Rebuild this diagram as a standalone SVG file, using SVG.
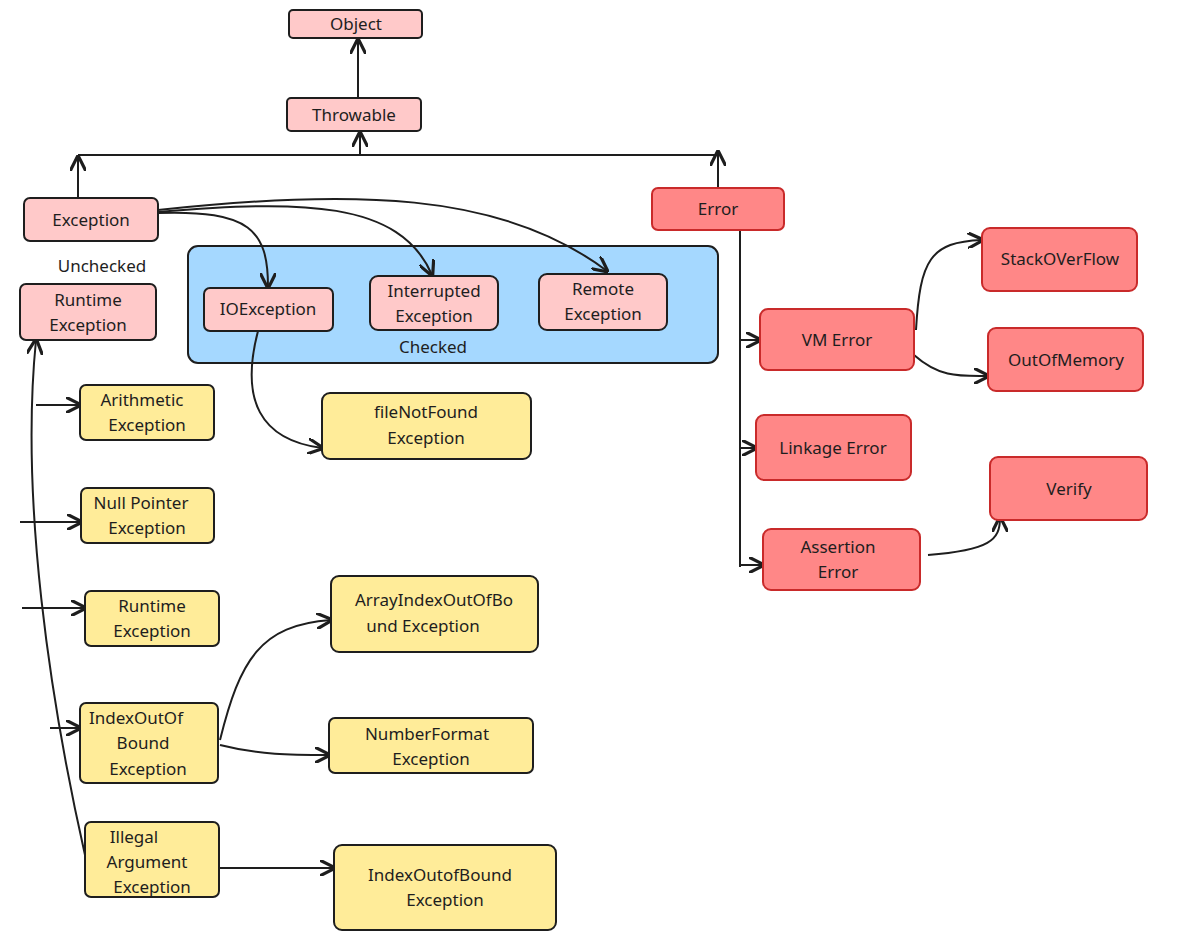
<svg xmlns="http://www.w3.org/2000/svg" width="1200" height="951" viewBox="0 0 1200 951">
<style>
.n rect{stroke:#1e1e1e;stroke-width:2}
.p rect{fill:#ffc9c9}.r rect{fill:#ff8787;stroke:#c92a2a}.y rect{fill:#ffec99}
text{font-family:"Noto Sans",sans-serif;font-size:17px;fill:#1e1e1e;text-anchor:middle}
.c path{fill:none;stroke:#1e1e1e;stroke-width:2;marker-end:url(#a)}
.c path.l{marker-end:none}
</style>
<defs><marker id="a" viewBox="0 0 10 10" refX="9" refY="5" markerWidth="8" markerHeight="8" orient="auto"><path d="M0,0L10,5L0,10" fill="none" stroke="#1e1e1e" stroke-width="2"/></marker></defs>
<rect width="1200" height="951" fill="#fff"/>
<g id="checked"><rect x="188" y="246" width="530" height="117" rx="10" fill="#a5d8ff" stroke="#1e1e1e" stroke-width="2"/><text x="433" y="353">Checked</text></g>
<text x="102" y="272">Unchecked</text>
<g class="c">
<path d="M358,98V40"/>
<path class="l" d="M78,155H718"/>
<path d="M360,155V133"/>
<path d="M78,198V157"/>
<path d="M718,188V152"/>
<path d="M158,213C250,210 268,230 268,287"/>
<path d="M158,212C300,200 400,200 432,275"/>
<path d="M158,210C350,190 500,190 607,271"/>
<path d="M258,331C240,400 260,440 322,448"/>
<path class="l" d="M740,230V567"/>
<path d="M740,340H760"/>
<path d="M740,448H756"/>
<path d="M740,565H763"/>
<path d="M916,330C920,260 930,242 982,240"/>
<path d="M914,355C940,378 960,376 988,376"/>
<path d="M928,555C990,550 1000,540 1000,518"/>
<path d="M85,855C50,700 20,500 36,340"/>
<path d="M36,405H80"/>
<path d="M20,522H81"/>
<path d="M22,608H85"/>
<path d="M50,728H80"/>
<path d="M220,740C240,660 260,625 331,620"/>
<path d="M220,745C260,755 290,755 329,755"/>
<path d="M219,868H334"/>
</g>
<g id="object" class="n p"><rect x="289" y="10" width="133" height="28" rx="4"/><text x="356" y="30">Object</text></g>
<g id="throwable" class="n p"><rect x="287" y="98" width="134" height="33" rx="4"/><text x="354" y="121">Throwable</text></g>
<g id="exception" class="n p"><rect x="24" y="198" width="134" height="43" rx="6"/><text x="91" y="226">Exception</text></g>
<g id="runtime1" class="n p"><rect x="20" y="284" width="136" height="56" rx="6"/><text x="88" y="306">Runtime</text><text x="88" y="331">Exception</text></g>
<g id="ioexception" class="n p"><rect x="204" y="288" width="129" height="43" rx="6"/><text x="268" y="315">IOException</text></g>
<g id="interrupted" class="n p"><rect x="370" y="276" width="128" height="54" rx="8"/><text x="434" y="297">Interrupted</text><text x="434" y="322">Exception</text></g>
<g id="remote" class="n p"><rect x="539" y="274" width="128" height="56" rx="8"/><text x="603" y="295">Remote</text><text x="603" y="320">Exception</text></g>
<g id="filenotfound" class="n y"><rect x="322" y="393" width="209" height="66" rx="8"/><text x="426" y="418">fileNotFound</text><text x="426" y="444">Exception</text></g>
<g id="error" class="n r"><rect x="652" y="188" width="132" height="42" rx="6"/><text x="718" y="215">Error</text></g>
<g id="vmerror" class="n r"><rect x="760" y="309" width="154" height="61" rx="8"/><text x="837" y="346">VM Error</text></g>
<g id="stackoverflow" class="n r"><rect x="982" y="228" width="155" height="63" rx="8"/><text x="1060" y="265">StackOVerFlow</text></g>
<g id="outofmemory" class="n r"><rect x="988" y="328" width="155" height="63" rx="8"/><text x="1066" y="366">OutOfMemory</text></g>
<g id="linkage" class="n r"><rect x="756" y="415" width="155" height="65" rx="8"/><text x="833" y="454">Linkage Error</text></g>
<g id="verify" class="n r"><rect x="990" y="457" width="157" height="63" rx="8"/><text x="1069" y="495">Verify</text></g>
<g id="assertion" class="n r"><rect x="763" y="529" width="157" height="61" rx="8"/><text x="838" y="553">Assertion</text><text x="838" y="578">Error</text></g>
<g id="arithmetic" class="n y"><rect x="80" y="385" width="134" height="55" rx="6"/><text x="142" y="406">Arithmetic</text><text x="147" y="431">Exception</text></g>
<g id="nullpointer" class="n y"><rect x="81" y="488" width="133" height="55" rx="6"/><text x="141" y="509">Null Pointer</text><text x="147" y="534">Exception</text></g>
<g id="runtime2" class="n y"><rect x="85" y="591" width="134" height="55" rx="6"/><text x="152" y="612">Runtime</text><text x="152" y="637">Exception</text></g>
<g id="indexoutof" class="n y"><rect x="80" y="703" width="138" height="80" rx="6"/><text x="136" y="724">IndexOutOf</text><text x="143" y="749">Bound</text><text x="148" y="775">Exception</text></g>
<g id="illegal" class="n y"><rect x="85" y="822" width="134" height="75" rx="6"/><text x="134" y="843">Illegal</text><text x="147" y="868">Argument</text><text x="152" y="893">Exception</text></g>
<g id="arrayindex" class="n y"><rect x="331" y="576" width="207" height="76" rx="8"/><text x="434" y="606">ArrayIndexOutOfBo</text><text x="423" y="632">und Exception</text></g>
<g id="numberformat" class="n y"><rect x="329" y="718" width="204" height="55" rx="6"/><text x="427" y="740">NumberFormat</text><text x="431" y="765">Exception</text></g>
<g id="indexoutofbound" class="n y"><rect x="334" y="845" width="222" height="85" rx="8"/><text x="440" y="881">IndexOutofBound</text><text x="445" y="906">Exception</text></g>
</svg>
